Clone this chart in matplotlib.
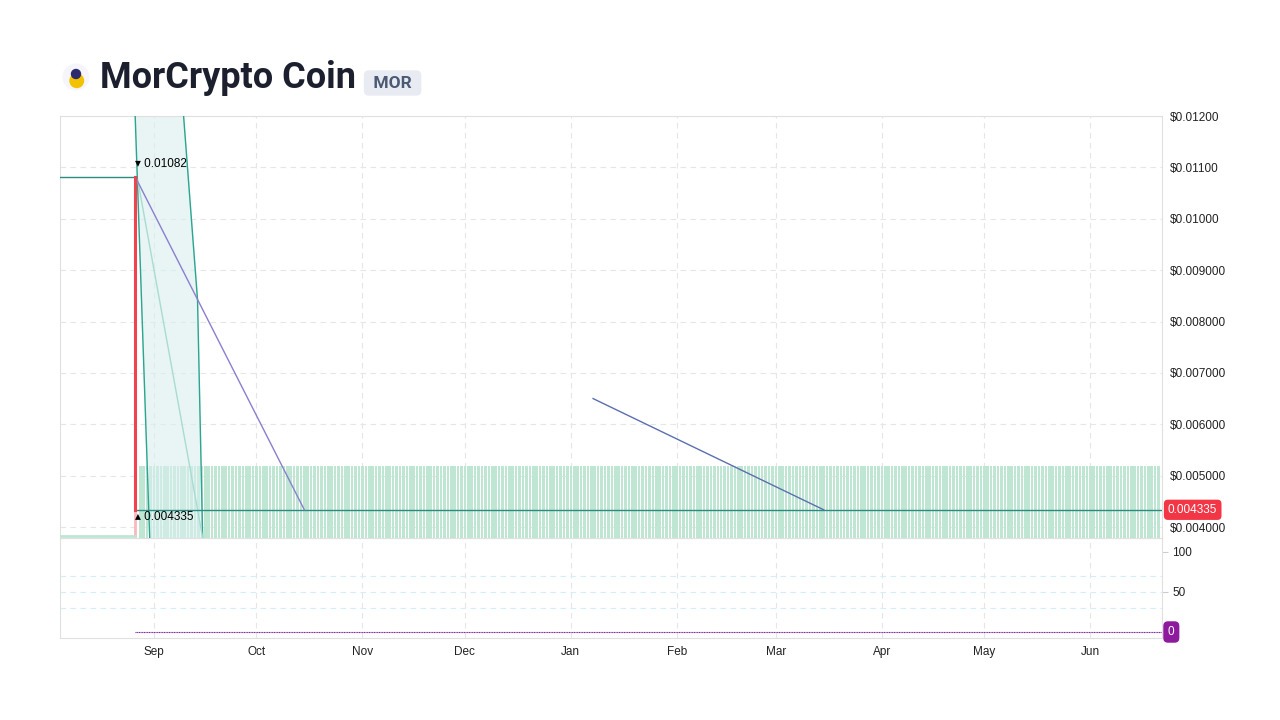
import matplotlib
matplotlib.use("Agg")
import matplotlib.pyplot as plt
import matplotlib.dates as mdates
import numpy as np
import pandas as pd
from matplotlib.patches import Circle
from matplotlib.transforms import offset_copy

plt.rcParams['font.family'] = ['Liberation Sans', 'DejaVu Sans']

# ---- data ----
pre_dates = pd.to_datetime(["2023-08-04 00:00", "2023-08-26 12:00"])
pre_price = [0.01082, 0.01082]
candle_date = pd.Timestamp("2023-08-26 12:00")
candle_open, candle_close = 0.01082, 0.004335
post_dates = pd.to_datetime(["2023-08-26 12:00", "2024-06-22 00:00"])
post_price = [0.004335, 0.004335]
ma1_dates = pd.to_datetime(["2023-08-26 12:00", "2023-10-15 00:00"])
ma1_vals = [0.01082, 0.004335]
ma2_dates = pd.to_datetime(["2024-01-07 12:00", "2024-03-15 00:00"])
ma2_vals = [0.0065, 0.004335]
band_left_dates = pd.to_datetime(["2023-08-26 12:00", "2023-08-30 18:00"])
band_right_dates = pd.to_datetime(["2023-09-09 16:00", "2023-09-13 18:00", "2023-09-15 06:00"])
band_right_vals = [0.0120, 0.00842, 0.00379]
band_mid_dates = pd.to_datetime(["2023-08-27 06:00", "2023-09-15 06:00"])
band_mid_vals = [0.01075, 0.00379]
vol_dates = pd.date_range("2023-08-28", "2024-06-21", freq="D")
vol_vals = np.ones(len(vol_dates))
ind_dates = pd.to_datetime(["2023-08-26 12:00", "2024-06-22 00:00"])
ind_vals = [0, 0]
price_ticks = [0.004, 0.005, 0.006, 0.007, 0.008, 0.009, 0.010, 0.011, 0.012]
price_labels = ["$0.004000", "$0.005000", "$0.006000", "$0.007000", "$0.008000",
                "$0.009000", "$0.01000", "$0.01100", "$0.01200"]
month_ticks = pd.date_range("2023-09-01", "2024-06-01", freq="MS")
month_labels = ["Sep", "Oct", "Nov", "Dec", "Jan", "Feb", "Mar", "Apr", "May", "Jun"]

W, H = 1280, 720
fig = plt.figure(figsize=(12.8, 7.2), dpi=100)
L, R = 60 / W, 1162 / W
rect = [L, (720 - 538) / H, R - L, (538 - 116) / H]
ax = fig.add_axes(rect)
axv = fig.add_axes(rect, sharex=ax)
ax2 = fig.add_axes([L, (720 - 638) / H, R - L, 100 / H], sharex=ax)
axv.set_zorder(1)
ax.set_zorder(2)
ax.patch.set_visible(False)
xmin, xmax = pd.Timestamp("2023-08-04 12:00"), pd.Timestamp("2024-06-22 00:00")
ax.set_xlim(xmin, xmax)
ax.set_ylim(0.003786, 0.012)

# grid
for t in month_ticks:
    axv.axvline(t, color="#e6e6e6", lw=0.8, ls=(0, (5, 4)), zorder=0)
    ax2.axvline(t, color="#e6e6e6", lw=0.8, ls=(0, (5, 4)), zorder=0)
axv.set_ylim(0, 5.86)
for p in price_ticks:
    axv.axhline((p - 0.003786) / (0.012 - 0.003786) * 5.86, color="#e6e6e6", lw=0.8,
                ls=(0, (5, 4)), zorder=0)

# volume
axv.bar(vol_dates, vol_vals, width=0.75, color="#bfe6d3", zorder=1)
axv.set_yticks([])
axv.tick_params(axis="x", bottom=False, labelbottom=False)
for s in axv.spines.values():
    s.set_visible(False)

# band
poly_x = list(mdates.date2num(band_left_dates)) + list(mdates.date2num(band_right_dates))[::-1]
poly_y = [0.0120, 0.00379] + band_right_vals[::-1]
ax.fill(poly_x, poly_y, color="#d9efee", alpha=0.6, zorder=2)
ax.plot(band_left_dates, [0.0120, 0.00379], color="#2aa58f", lw=1, zorder=3)
ax.plot(band_right_dates, band_right_vals, color="#2aa58f", lw=1, zorder=3)
ax.plot(band_mid_dates, band_mid_vals, color="#a8dcd0", lw=1, zorder=3)

# price
ax.plot(pre_dates, pre_price, color="#2a8c80", lw=1, zorder=4)
ax.plot(post_dates, post_price, color="#2a8c80", lw=1, zorder=4)
ax.plot([candle_date, candle_date], [candle_close, 0.00379], color="#f9b9bd", lw=2, zorder=4)
ax.plot([candle_date, candle_date], [candle_open, candle_close], color="#f0434f", lw=2.2, zorder=5)
ax.plot([pd.Timestamp("2023-08-04"), candle_date], [0.003786 + 0.00003] * 2, color="#bfe6d3", lw=2, zorder=4)
ax.plot(ma1_dates, ma1_vals, color="#8a7fd0", lw=1, zorder=4)
ax.plot(ma2_dates, ma2_vals, color="#5a6fb0", lw=1, zorder=4)
ax.text(candle_date, 0.01082 + 0.00012, "\u25BE 0.01082", fontsize=8.5, va="bottom", ha="left", zorder=6)
ax.text(candle_date, 0.004335 - 0.00002, "\u25B4 0.004335", fontsize=8.5, va="top", ha="left", zorder=6)

ax.yaxis.tick_right()
ax.set_yticks(price_ticks)
ax.set_yticklabels(price_labels, fontsize=8.5, color="#222")
ax.tick_params(axis="y", length=0, pad=6)
ax.tick_params(axis="x", bottom=False, labelbottom=False)
ax.text(1.0, 0.004335, "0.004335",
        transform=offset_copy(ax.get_yaxis_transform(), fig=fig, x=6, y=0, units="dots"),
        fontsize=8.5, color="white", va="center", ha="left", zorder=10,
        bbox=dict(boxstyle="round,pad=0.35", fc="#f23645", ec="none"))
for s in ax.spines.values():
    s.set_color("#e0e0e0")

# indicator pane
ax2.set_ylim(-7.5, 117.5)
for lv in [70, 50, 30]:
    ax2.axhline(lv, color="#d5eef5", lw=0.8, ls=(0, (5, 4)), zorder=1)
ax2.plot(ind_dates, ind_vals, color="#7b1fa2", lw=0.8, ls=(0, (1, 0.5)))
ax2.yaxis.tick_right()
ax2.set_yticks([50, 100])
ax2.set_yticklabels(["50", "100"], fontsize=8.5, color="#222")
ax2.tick_params(axis="y", length=4, color="#ccc")
ax2.set_xticks(month_ticks)
ax2.set_xticklabels(month_labels, fontsize=8.5, color="#222")
ax2.tick_params(axis="x", length=0, pad=6)
ax2.text(1.0, 0, "0",
         transform=offset_copy(ax2.get_yaxis_transform(), fig=fig, x=6, y=0, units="dots"),
         fontsize=8.5, color="white", va="center", ha="left",
         bbox=dict(boxstyle="round,pad=0.4", fc="#8e1a9e", ec="none"))
for s in ax2.spines.values():
    s.set_color("#e0e0e0")

# title
fig.text(100 / W, 1 - 78 / H, "MorCrypto Coin", fontsize=26, fontweight="bold",
         color="#1c1f2e", va="center", ha="left", family="Roboto")
fig.text(369 / W, 1 - 83 / H, " MOR ", fontsize=12.5, fontweight="bold", color="#4a5a75",
         va="center", ha="left", family="Roboto",
         bbox=dict(boxstyle="round,pad=0.3", fc="#e8ecf2", ec="none"))
iax = fig.add_axes([61 / W, 1 - 92 / H, 30 / W, 30 / H])
iax.set_xlim(-1, 1); iax.set_ylim(-1, 1); iax.set_aspect("equal"); iax.axis("off")
iax.add_patch(Circle((0, 0), 0.85, color="#f5f5fa"))
iax.add_patch(Circle((0.05, -0.25), 0.45, color="#f2c200"))
iax.add_patch(Circle((0, 0.2), 0.3, color="#2d2a6e"))

fig.savefig("out.png", dpi=100)
